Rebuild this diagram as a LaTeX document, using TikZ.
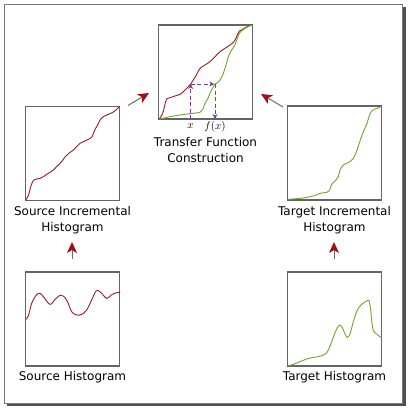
\documentclass[tikz,border=0pt]{standalone}
\usepackage{fontspec}
\setmainfont{DejaVu Sans}
\usetikzlibrary{arrows.meta,calc}
\definecolor{boxgray}{RGB}{100,100,100}
\definecolor{framegray}{RGB}{120,120,120}
\definecolor{shadowgray}{RGB}{80,80,80}
\definecolor{redc}{RGB}{150,30,35}
\definecolor{greenc}{RGB}{110,165,50}
\definecolor{purplec}{RGB}{125,60,150}
\definecolor{arrowred}{RGB}{160,15,20}
\definecolor{shaftgray}{RGB}{115,105,105}
\begin{document}
\begin{tikzpicture}[x=1pt,y=-1pt,
  panel/.style={draw=boxgray, line width=1.3pt, minimum width=94pt, minimum height=94pt, inner sep=0pt, outer sep=0pt},
  caption/.style={align=center, font=\fontsize{12}{16}\selectfont, text=black, inner sep=0pt},
  flow/.style={draw=shaftgray, line width=1pt, -{Stealth[length=11pt,width=10pt,inset=3pt,fill=arrowred,color=arrowred]}},
  redcurve/.style={draw=redc, line width=0.9pt},
  greencurve/.style={draw=greenc, line width=0.9pt},
  guide/.style={draw=purplec, line width=0.9pt, dash pattern=on 4pt off 2.5pt, -{Stealth[length=5pt,width=5pt,fill=purplec,color=purplec]}},
  mathlabel/.style={font=\fontsize{10.5}{12}\selectfont, inner sep=0pt}
]
\useasboundingbox (0,0) rectangle (410,410);
% outer frame with shadow
\fill[shadowgray] (7,7) rectangle (405.5,406);
\draw[framegray, line width=0.9pt, fill=white] (4,4.5) rectangle (402.5,403);

% panels
\node[panel] (tf) at (205.5,72) {};
\node[panel] (si) at (72.5,153.5) {};
\node[panel] (ti) at (334.5,153) {};
\node[panel] (sh) at (72.5,319) {};
\node[panel] (th) at (334.5,319) {};

% captions
\node[caption] (tfl) at (205.5,150.5) {Transfer Function\\Construction};
\node[caption] (sil) at (72.5,220) {Source Incremental\\Histogram};
\node[caption] (til) at (334.5,220) {Target Incremental\\Histogram};
\node[caption] (shl) at (72.5,377.5) {Source Histogram};
\node[caption] (thl) at (334.5,377.5) {Target Histogram};

% arrows
\coordinate (a1s) at (72,259);
\coordinate (a1e) at (72,242);
\coordinate (a2s) at (334,259);
\coordinate (a2e) at (334,242);
\coordinate (a3s) at (128,105.5);
\coordinate (a3e) at (149,93);
\coordinate (a4s) at (283,107);
\coordinate (a4e) at (261,94);
\draw[flow] (a1s) -- (a1e);
\draw[flow] (a2s) -- (a2e);
\draw[flow] (a3s) -- (a3e);
\draw[flow] (a4s) -- (a4e);

% source histogram curve
\begin{scope}[shift={(10,260)}, scale=1/3]
\draw[redcurve] plot[smooth, tension=0.6] coordinates {(47,178) (55,168) (65,130) (80,104) (90,100) (100,110) (120,133) (135,118) (150,106) (160,108) (172,124) (185,155) (200,165) (215,163) (230,150) (245,120) (258,93) (270,95) (290,115) (305,104) (320,98) (330,97)};
\end{scope}

% target histogram curve
\begin{scope}[shift={(270,260)}, scale=1/3]
\draw[greencurve] plot[smooth, tension=0.5] coordinates {(55,318) (70,313) (90,305) (110,297) (125,293) (145,290) (165,283) (175,270) (185,245) (195,218) (205,198) (210,195) (218,205) (225,222) (232,232) (240,222) (250,185) (262,150) (275,133) (290,123) (297,122) (302,150) (306,190) (310,212) (320,222) (335,235)};
\end{scope}

% source incremental
\begin{scope}[shift={(10,95)}, scale=1/3]
\draw[redcurve] plot[smooth, tension=0.5] coordinates {(47,315) (55,302) (62,276) (70,256) (80,252) (90,250) (100,245) (110,238) (120,232) (130,225) (140,215) (155,200) (165,186) (175,176) (190,165) (200,155) (210,145) (220,140) (235,133) (245,127) (250,115) (257,100) (265,86) (270,75) (280,65) (295,58) (310,51) (320,43) (328,35)};
\end{scope}

% target incremental
\begin{scope}[shift={(270,95)}, scale=1/3]
\draw[greencurve] plot[smooth, tension=0.5] coordinates {(55,313) (80,311) (100,309) (120,305) (140,300) (150,295) (170,292) (178,287) (185,268) (195,258) (205,245) (210,225) (220,210) (240,200) (250,190) (260,168) (270,138) (280,110) (290,88) (298,62) (305,48) (315,42) (330,37)};
\end{scope}

% transfer function construction
\begin{scope}[shift={(150,15)}, scale=1/3]
\draw[redcurve] plot[smooth, tension=0.5] coordinates {(28,312) (38,295) (45,268) (50,252) (60,248) (75,243) (90,238) (100,230) (110,220) (122,207) (130,195) (140,178) (150,160) (165,150) (180,140) (195,125) (210,110) (225,100) (240,90) (252,80) (260,65) (268,48) (275,45) (285,38) (300,32) (305,30)};
\draw[greencurve] plot[smooth, tension=0.5] coordinates {(28,313) (60,305) (90,300) (120,296) (150,292) (158,284) (165,265) (175,248) (182,230) (195,207) (200,205) (210,195) (220,175) (228,150) (235,125) (245,105) (255,90) (262,70) (268,55) (278,45) (290,37) (305,30)};
\coordinate (p0) at (122,312);
\coordinate (p1) at (122,207);
\coordinate (p2) at (193,207);
\coordinate (p3) at (195,207);
\coordinate (p4) at (195,312);
\end{scope}
\draw[guide] (p0) -- (p1);
\draw[guide] (p1) -- (p2);
\draw[guide] (p3) -- (p4);
\node[mathlabel] (xl) at (190.5,126.5) {$x$};
\node[mathlabel] (fxl) at (215,126.5) {$f(x)$};
\end{tikzpicture}
\end{document}
